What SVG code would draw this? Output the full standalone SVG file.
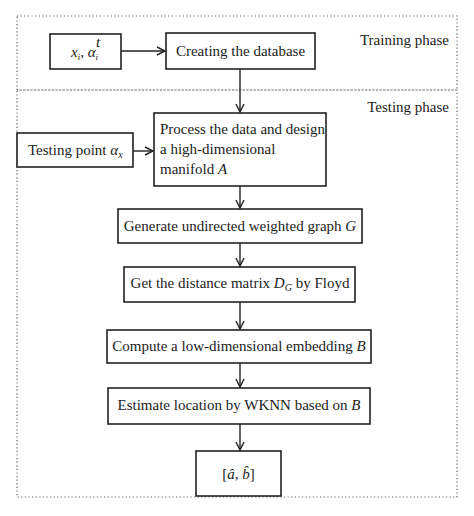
<svg xmlns="http://www.w3.org/2000/svg" width="474" height="516" viewBox="0 0 474 516">
<style>
.bg{fill:#fff}
.phase{fill:none;stroke:#666;stroke-width:1.2;stroke-dasharray:1.2 2.4}
.box{fill:#fff;stroke:#222;stroke-width:1.6}
.t{font-family:"Liberation Serif","DejaVu Serif",serif;font-size:15px;fill:#222}
.e{text-anchor:end}
.m{text-anchor:middle}
.c{fill:none;stroke:#222;stroke-width:1.4;marker-end:url(#ah)}
</style>
<defs>
<marker id="ah" viewBox="0 0 10 10" refX="9" refY="5" markerWidth="10" markerHeight="10" markerUnits="userSpaceOnUse" orient="auto">
<polyline points="1,1 9,5 1,9" fill="none" stroke="#222" stroke-width="1.4"/>
</marker>
</defs>
<rect class="bg" x="0" y="0" width="474" height="516"/>
<g id="training-phase">
<rect class="phase" x="17" y="16" width="440" height="74"/>
<text class="t e" x="449" y="45">Training phase</text>
</g>
<g id="testing-phase">
<rect class="phase" x="17" y="90" width="440" height="407"/>
<text class="t e" x="449" y="112">Testing phase</text>
</g>
<g id="connectors">
<line class="c" x1="121" y1="51" x2="165" y2="51"/>
<line class="c" x1="240" y1="69" x2="240" y2="112"/>
<line class="c" x1="133" y1="151" x2="153" y2="151"/>
<line class="c" x1="240" y1="186" x2="240" y2="208"/>
<line class="c" x1="240" y1="243" x2="240" y2="266"/>
<line class="c" x1="240" y1="302" x2="240" y2="329"/>
<line class="c" x1="240" y1="363" x2="240" y2="387"/>
<line class="c" x1="240" y1="424" x2="240" y2="450"/>
</g>
<g id="input">
<rect class="box" x="50" y="34" width="71" height="35"/>
<text class="t" x="71" y="57"><tspan font-style="italic">x</tspan><tspan font-style="italic" font-size="9" dy="3">i</tspan><tspan dy="-3">, </tspan><tspan font-style="italic">α</tspan><tspan font-style="italic" font-size="9" dy="3">i</tspan></text>
<text class="t" x="96" y="47" font-style="italic" font-size="9">t</text>
</g>
<g id="database">
<rect class="box" x="166" y="33" width="149" height="36"/>
<text class="t m" x="240.5" y="56">Creating the database</text>
</g>
<g id="testing-point">
<rect class="box" x="17" y="133" width="116" height="34"/>
<text class="t" x="28" y="155">Testing point <tspan font-style="italic">α</tspan><tspan font-style="italic" font-size="10" dy="3">x</tspan></text>
</g>
<g id="process">
<rect class="box" x="154" y="113" width="172" height="73"/>
<text class="t" x="160" y="134">Process the data and design</text>
<text class="t" x="160" y="154">a high-dimensional</text>
<text class="t" x="160" y="174">manifold <tspan font-style="italic">A</tspan></text>
</g>
<g id="graph">
<rect class="box" x="118" y="209" width="244" height="34"/>
<text class="t m" x="240" y="231">Generate undirected weighted graph <tspan font-style="italic">G</tspan></text>
</g>
<g id="distance">
<rect class="box" x="124" y="267" width="231" height="35"/>
<text class="t m" x="240" y="288">Get the distance matrix <tspan font-style="italic">D</tspan><tspan font-style="italic" font-size="10" dy="3">G</tspan><tspan dy="-3"> by Floyd</tspan></text>
</g>
<g id="embedding">
<rect class="box" x="107" y="330" width="264" height="33"/>
<text class="t m" x="239" y="351">Compute a low-dimensional embedding <tspan font-style="italic">B</tspan></text>
</g>
<g id="estimate">
<rect class="box" x="108" y="388" width="262" height="36"/>
<text class="t m" x="239" y="410">Estimate location by WKNN based on <tspan font-style="italic">B</tspan></text>
</g>
<g id="result">
<rect class="box" x="196" y="451" width="85" height="45"/>
<text class="t m" x="238.5" y="479" font-size="18">[<tspan font-style="italic">â</tspan>, <tspan font-style="italic">b̂</tspan>]</text>
</g>
</svg>
